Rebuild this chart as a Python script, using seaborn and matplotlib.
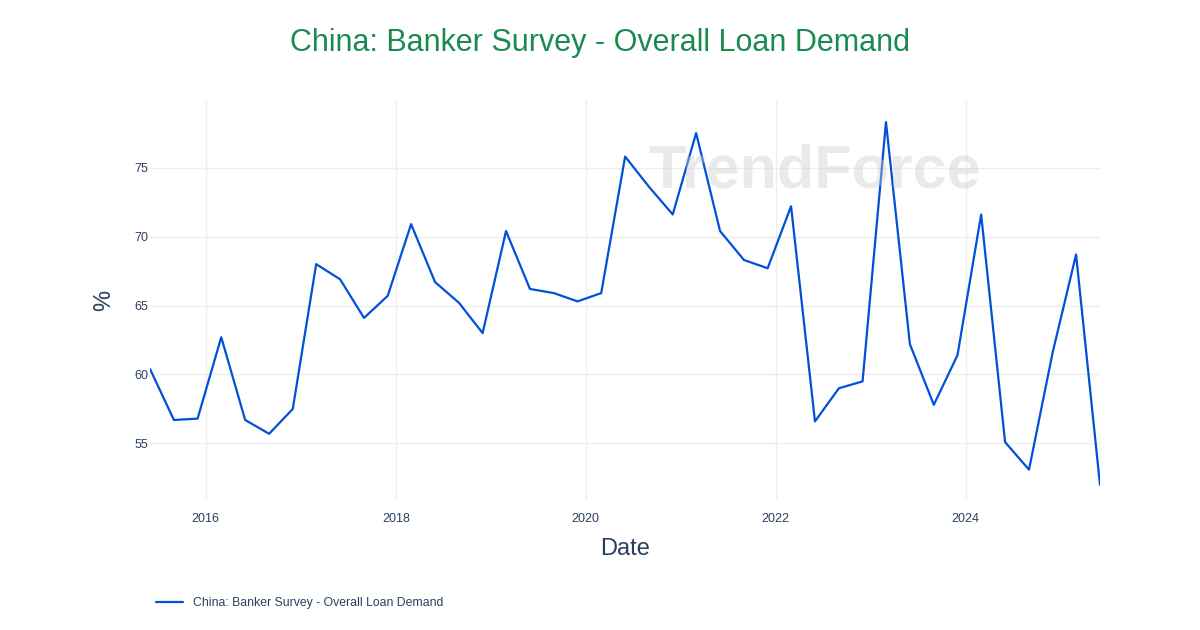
import numpy as np
import pandas as pd
import matplotlib
matplotlib.use('Agg')
import matplotlib.pyplot as plt
import matplotlib.dates as mdates
import seaborn as sns

series_name = 'China: Banker Survey - Overall Loan Demand'
dates = pd.date_range('2015-06-01', periods=41, freq='3MS')
values = [60.4, 56.7, 56.8, 62.7, 56.7, 55.7, 57.5, 68.0, 66.9, 64.1,
          65.7, 70.9, 66.7, 65.2, 63.0, 70.4, 66.2, 65.9, 65.3, 65.9,
          75.8, 73.6, 71.6, 77.5, 70.4, 68.3, 67.7, 72.2, 56.6, 59.0,
          59.5, 78.3, 62.2, 57.8, 61.4, 71.6, 55.1, 53.1, 61.6, 68.7, 52.0]

df = pd.DataFrame({'Date': dates, 'value': values})

sns.set_style('white')
plt.rcParams['font.family'] = ['Liberation Sans', 'DejaVu Sans']

fig = plt.figure(figsize=(12, 6.3), dpi=100)
ax = fig.add_axes([150/1200, 130/630, 950/1200, 400/630])

# faint watermark
ax.text(0.70, 0.82, 'TrendForce', transform=ax.transAxes, fontsize=44,
        fontweight='bold', color='#cccccc', alpha=0.4, ha='center', va='center')

sns.lineplot(data=df, x='Date', y='value', ax=ax, color='#0050d8',
             linewidth=1.6, label=series_name, legend=False)

ax.set_xlim(dates[0], dates[-1])
ax.set_ylim(50.9, 79.9)
ax.set_yticks([55, 60, 65, 70, 75])
ax.xaxis.set_major_locator(mdates.YearLocator(2))
ax.xaxis.set_major_formatter(mdates.DateFormatter('%Y'))
ax.grid(True, color='#eeeeee', linewidth=1)
for s in ax.spines.values():
    s.set_visible(False)
ax.tick_params(length=0, labelsize=9, colors='#2a3f5f')
ax.tick_params(axis='x', pad=9)
ax.tick_params(axis='y', pad=1)
ax.set_xlabel('Date', fontsize=17, color='#2a3f5f', labelpad=10)
ax.set_ylabel('%', fontsize=17, color='#2a3f5f', labelpad=14)

fig.suptitle(series_name, x=0.5, y=0.955, fontsize=22, color='#1a8a4f')

h, l = ax.get_legend_handles_labels()
fig.legend(h, l, loc='center left', bbox_to_anchor=(145/1200, 1 - 603/630),
           frameon=False, fontsize=8.8, labelcolor='#2a3f5f', handlelength=2.2)

fig.savefig('out.png', dpi=100)
